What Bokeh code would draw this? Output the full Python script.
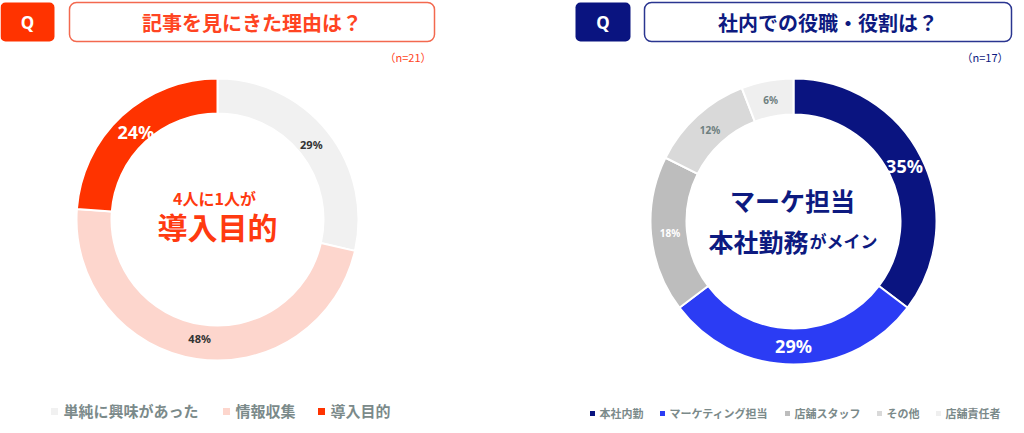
import numpy as np
from bokeh.plotting import figure
from bokeh.models import Range1d, BoxAnnotation
from bokeh.core.properties import value
from bokeh.embed import file_html
from bokeh.resources import INLINE

# ---------------- data ----------------
left_title = "記事を見にきた理由は？"
left_n = 21
left_categories = ["単純に興味があった", "情報収集", "導入目的"]
left_counts = [6, 10, 5]
left_center_line1 = "4人に1人が"
left_center_line2 = "導入目的"

right_title = "社内での役職・役割は？"
right_n = 17
right_categories = ["本社内勤", "マーケティング担当", "店舗スタッフ", "その他", "店舗責任者"]
right_counts = [6, 5, 3, 2, 1]
right_center_line1 = "マーケ担当"
right_center_line2a = "本社勤務"
right_center_line2b = "がメイン"

# ---------------- styles ----------------
RED = "#ff3300"
NAVY = "#0a1480"
left_colors = ["#f1f1f1", "#fdd6cd", RED]
right_colors = [NAVY, "#2b3cf4", "#bdbdbd", "#d9d9d9", "#efefef"]
left_label_sizes = ["11px", "11px", "18px"]
left_label_colors = ["#333333", "#333333", "white"]
right_label_sizes = ["18px", "18px", "10px", "10px", "10px"]
right_label_colors = ["white", "white", "white", "#6e7f7f", "#6e7f7f"]
LEGEND_GRAY = "#7b8a8a"
JP = value("Noto Sans CJK JP")
SANS = value("Noto Sans")

W, H = 1024, 433
p = figure(width=W, height=H, x_range=Range1d(0, W), y_range=Range1d(0, H),
           output_backend="svg", toolbar_location=None, min_border=0)
p.axis.visible = False
p.grid.visible = False
p.outline_line_color = None
p.background_fill_color = "white"


def Y(v):
    return H - v


def donut(cx, cy, r_in, r_out, counts, colors, lab_r, lab_sizes, lab_colors):
    c = np.array(counts, dtype=float)
    frac = c / c.sum()
    cum = np.concatenate([[0.0], np.cumsum(frac)])
    start = np.pi / 2 - 2 * np.pi * cum[:-1]
    end = np.pi / 2 - 2 * np.pi * cum[1:]
    p.annular_wedge(x=[cx] * len(c), y=[Y(cy)] * len(c), inner_radius=r_in, outer_radius=r_out,
                    start_angle=start, end_angle=end, direction="clock",
                    fill_color=colors, line_color="white", line_width=2)
    mid = (start + end) / 2
    pct = [f"{int(round(f * 100))}%" for f in frac]
    for i in range(len(c)):
        p.text(x=[cx + lab_r * np.cos(mid[i])], y=[Y(cy) + lab_r * np.sin(mid[i])], text=[pct[i]],
               text_align="center", text_baseline="middle", text_font=SANS,
               text_font_style="bold", text_font_size=lab_sizes[i], text_color=lab_colors[i])


def header(qx0, qx1, tx0, tx1, color, border, title, n, tcolor):
    p.add_layout(BoxAnnotation(left=qx0, right=qx1, top=Y(2), bottom=Y(41), fill_color=color,
                               fill_alpha=1, line_color=None, border_radius=5, level="underlay"))
    p.add_layout(BoxAnnotation(left=tx0, right=tx1, top=Y(2), bottom=Y(41), fill_color="white",
                               fill_alpha=1, line_color=border, line_alpha=1, line_width=1.5,
                               border_radius=7, level="underlay"))
    p.text(x=[(qx0 + qx1) / 2], y=[Y(22)], text=["Q"], text_align="center", text_baseline="middle",
           text_font=SANS, text_font_style="bold", text_font_size="17px", text_color="white")
    p.text(x=[(tx0 + tx1) / 2], y=[Y(22)], text=[title], text_align="center", text_baseline="middle",
           text_font=JP, text_font_style="bold", text_font_size="20px", text_color=tcolor)
    p.text(x=[tx1 - 3], y=[Y(56)], text=[f"（n={n}）"], text_align="right", text_baseline="middle",
           text_font=JP, text_font_size="11px", text_color=tcolor)


# headers
header(0, 54, 69, 434, RED, "#f3694f", left_title, left_n, "#ff4422")
header(575, 630, 644, 1011, NAVY, "#2a3590", right_title, right_n, "#0d1a80")

# donuts
donut(217, 219, 106, 141, left_counts, left_colors, 120, left_label_sizes, left_label_colors)
donut(793, 221, 107, 143, right_counts, right_colors, 124, right_label_sizes, right_label_colors)

# center texts
p.text(x=[214], y=[Y(197)], text=[left_center_line1], text_align="center", text_baseline="middle",
       text_font=JP, text_font_style="bold", text_font_size="16px", text_color="#ff3a10")
p.text(x=[217], y=[Y(225)], text=[left_center_line2], text_align="center", text_baseline="middle",
       text_font=JP, text_font_style="bold", text_font_size="30px", text_color="#ff3a10")
p.text(x=[792], y=[Y(199)], text=[right_center_line1], text_align="center", text_baseline="middle",
       text_font=JP, text_font_style="bold", text_font_size="25px", text_color="#0d1a80")
p.text(x=[808], y=[Y(240)], text=[right_center_line2a], text_align="right", text_baseline="alphabetic",
       text_font=JP, text_font_style="bold", text_font_size="25px", text_color="#0d1a80")
p.text(x=[809], y=[Y(240)], text=[right_center_line2b], text_align="left", text_baseline="alphabetic",
       text_font=JP, text_font_style="bold", text_font_size="17px", text_color="#0d1a80")

# legends
left_leg_x = [54, 226, 321]
p.scatter(x=left_leg_x, y=[Y(411)] * 3, marker="square", size=7, fill_color=left_colors, line_color=None)
p.text(x=[x + 9 for x in left_leg_x], y=[Y(410)] * 3, text=left_categories, text_align="left",
       text_baseline="middle", text_font=JP, text_font_style="bold", text_font_size="15px",
       text_color=LEGEND_GRAY)

right_leg_x = [592, 662, 787, 879, 938]
p.scatter(x=right_leg_x, y=[Y(413)] * 5, marker="square", size=5, fill_color=right_colors, line_color=None)
p.text(x=[x + 7 for x in right_leg_x], y=[Y(412)] * 5, text=right_categories, text_align="left",
       text_baseline="middle", text_font=JP, text_font_style="bold", text_font_size="11px",
       text_color=LEGEND_GRAY)

open("out.html", "w").write(file_html(p, INLINE))
